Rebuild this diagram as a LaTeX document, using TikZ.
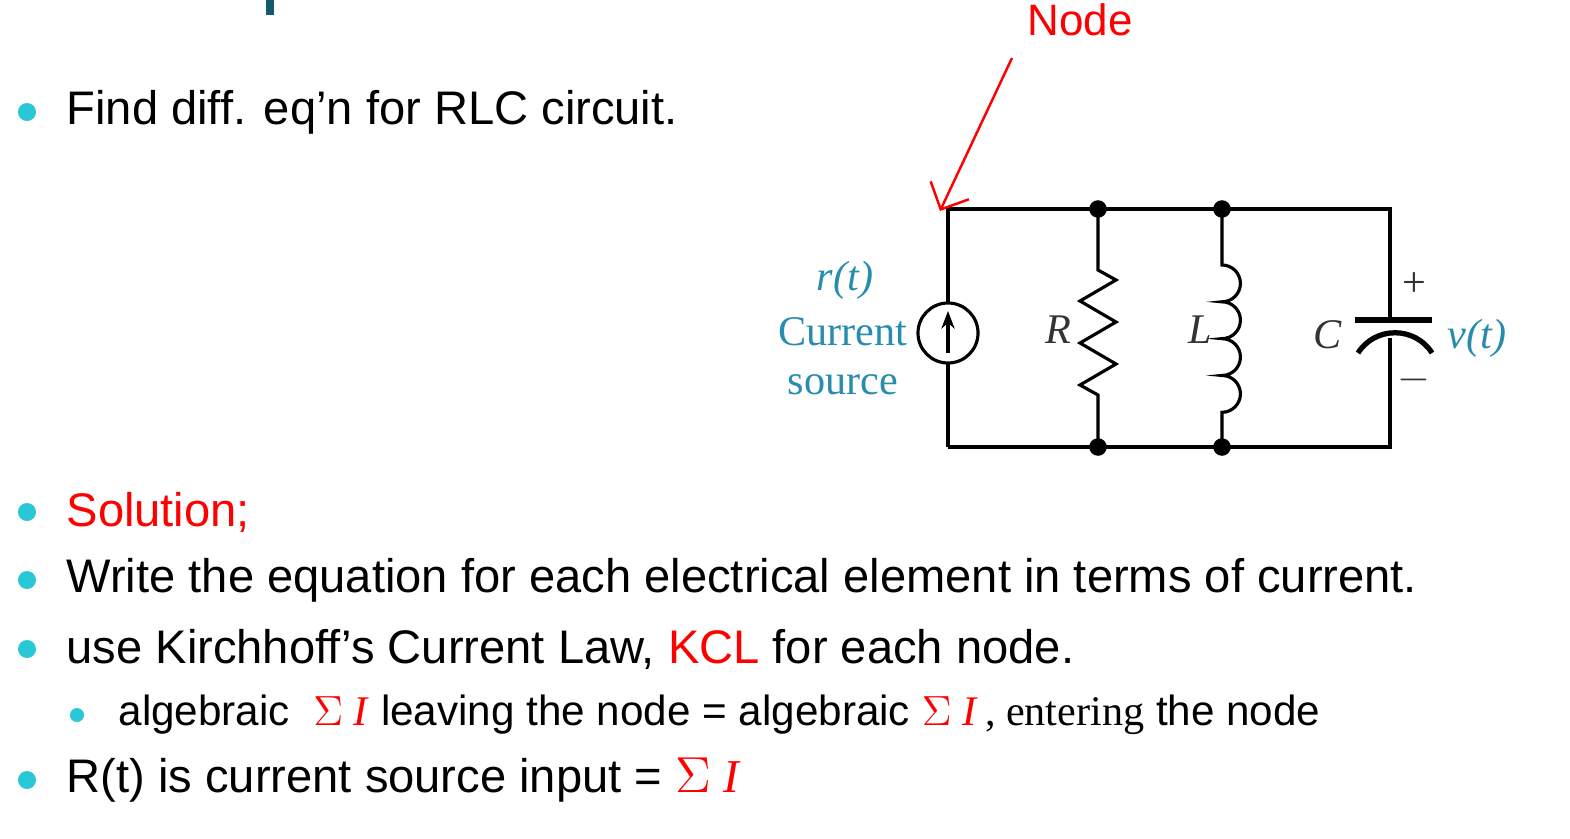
\documentclass[tikz,border=0pt]{standalone}
\usepackage{fontspec}
\setmainfont{Liberation Sans}
\newfontfamily\tms{Liberation Serif}
\usetikzlibrary{arrows.meta, positioning}
\definecolor{bul}{RGB}{40,200,215}
\definecolor{lab}{RGB}{40,140,175}
\definecolor{bar}{RGB}{20,90,110}
\begin{document}
\begin{tikzpicture} [x=0.01cm, y=0.01cm, line width=0.9pt,
	txt/.style = {anchor=west, inner sep=0pt, font=\fontsize{13.4}{16}\selectfont},
	sub/.style = {anchor=west, inner sep=0pt, font=\fontsize{12}{14}\selectfont},
	dot/.style = {circle, fill=black, inner sep=0pt, minimum size=5pt},
	lbl/.style = {font=\tms\fontsize{12}{14}\selectfont\itshape, lab}]
		% Canvas
		\useasboundingbox [fill=white] (0,0) rectangle (1570,838);
		\fill [bar] (266,823) rectangle (274,838);

		% Bullets
		\foreach \y in {726,326,258,189,58} \fill [bul] (27,\y) circle (0.09cm);
		\fill [bul] (77,123) circle (0.07cm);

		% Text lines
		\node (l1) [txt] at (65,726) {Find diff. eq’n for RLC circuit.};
		\node (l2) [txt, red] at (65,326) {Solution;};
		\node (l3) [txt] at (65,258) {Write the equation for each electrical element in terms of current.};
		\node (l4) [txt] at (65,189) {use Kirchhoff’s Current Law, \textcolor{red}{KCL} for each node.};
		\node (l5) [sub] at (117,123) {algebraic \ \textcolor{red}{\tms$\Sigma$ \textit{I}} leaving the node = algebraic \textcolor{red}{\tms$\Sigma$ \textit{I}}\,{\tms, entering} the node};
		\node (l6) [txt] at (65,58) {R(t) is current source input = \textcolor{red}{\tms$\Sigma$ \textit{I}}};

		% Circuit
		\coordinate (tl) at (948,629);
		\coordinate (bl) at (948,391);
		\coordinate (tr) at (1390,629);
		\coordinate (br) at (1390,391);
		\node (rt) [dot] at (1098,629) {};
		\node (lt) [dot] at (1222,629) {};
		\node (rb) [dot] at (1098,391) {};
		\node (lb) [dot] at (1222,391) {};
		\draw (bl) -- (tl) -- (rt.center) -- (lt.center) -- (tr) -- (1390,518);
		\draw (bl) -- (rb.center) -- (lb.center) -- (br) -- (1390,500);

		% Current source
		\node (src) [circle, draw, fill=white, minimum size=0.6cm, inner sep=0pt] at (948,505) {};
		\draw [-{Stealth[length=5pt]}] (948,485) -- (948,527);

		% Resistor
		\draw (rt.center) -- (1098,568) -- (1116,558) -- (1080,537) -- (1116,516) -- (1080,495)
			-- (1116,474) -- (1080,453) -- (1098,443) -- (rb.center);

		% Inductor
		\draw (lt.center) -- (1222,573) arc (90:-90:0.184cm) arc (90:-90:0.184cm)
			arc (90:-90:0.184cm) arc (90:-90:0.184cm) -- (lb.center);

		% Capacitor
		\draw [line width=1.8pt] (1355,518) -- (1432,518);
		\draw [line width=1.5pt] (1358,485) .. controls (1375,512) and (1415,512) .. (1432,485);

		% Circuit labels
		\node (rtl) [lbl] at (845,558) {\textit{r}(\textit{t})};
		\node (cur) [lbl, font=\tms\fontsize{12}{15}\selectfont] at (843,506) {Current};
		\node (sou) [lbl, font=\tms\fontsize{12}{15}\selectfont] at (843,453) {source};
		\node (rl) [lbl, black!80] at (1058,508) {R};
		\node (ll) [lbl, black!80] at (1200,508) {L};
		\node (cl) [lbl, black!80] at (1328,503) {C};
		\node (vl) [lbl] at (1477,500) {\textit{v}(\textit{t})};
		\node (pl) [font=\tms\fontsize{12}{14}\selectfont, black!80] at (1414,553) {+};
		\node (ml) [font=\tms\fontsize{12}{14}\selectfont, black!80] at (1414,458) {$-$};

		% Node pointer
		\node (nd) [font=\fontsize{12.5}{15}\selectfont, red] at (1080,818) {Node};
		\coordinate (ndt) at (1012,780);
		\draw [red, line width=0.7pt, -{Straight Barb[length=6pt]}] (ndt) -- (940,627);
	\end{tikzpicture}
\end{document}
